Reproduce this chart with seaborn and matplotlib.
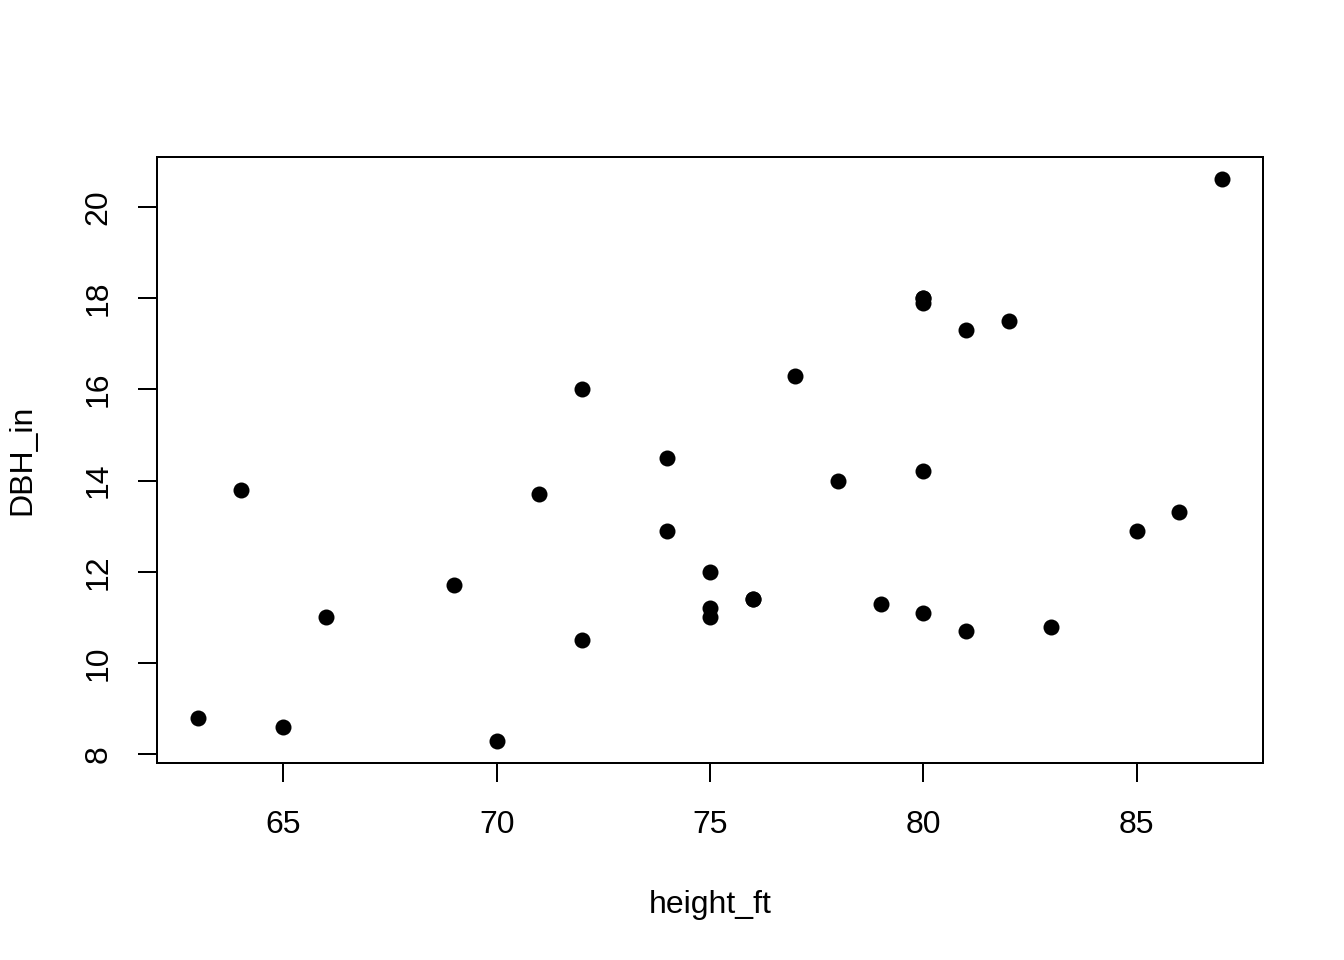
import matplotlib
matplotlib.use("Agg")
import matplotlib.pyplot as plt
import seaborn as sns
import pandas as pd

height_ft = [70, 65, 63, 72, 81, 83, 66, 75, 80, 75, 79, 76, 76, 69, 75, 74,
             85, 86, 71, 64, 78, 80, 74, 72, 77, 81, 82, 80, 80, 80, 87]
DBH_in = [8.3, 8.6, 8.8, 10.5, 10.7, 10.8, 11.0, 11.0, 11.1, 11.2, 11.3, 11.4,
          11.4, 11.7, 12.0, 12.9, 12.9, 13.3, 13.7, 13.8, 14.0, 14.2, 14.5,
          16.0, 16.3, 17.3, 17.5, 17.9, 18.0, 18.0, 20.6]
x_ticks = [65, 70, 75, 80, 85]
y_ticks = [8, 10, 12, 14, 16, 18, 20]

df = pd.DataFrame({"height_ft": height_ft, "DBH_in": DBH_in})

sns.set_style("white")
plt.rcParams["font.family"] = ["Liberation Sans", "DejaVu Sans"]
plt.rcParams["text.color"] = "black"
plt.rcParams["axes.labelcolor"] = "black"
plt.rcParams["xtick.color"] = "black"
plt.rcParams["ytick.color"] = "black"

fig = plt.figure(figsize=(7, 5), dpi=192)
ax = fig.add_axes([157/1344, 1-763/960, (1263-157)/1344, (763-157)/960])

sns.scatterplot(data=df, x="height_ft", y="DBH_in", ax=ax, color="black",
                s=36, edgecolor="black", linewidth=0)

xr = max(height_ft) - min(height_ft)
yr = max(DBH_in) - min(DBH_in)
ax.set_xlim(min(height_ft) - 0.04*xr, max(height_ft) + 0.04*xr)
ax.set_ylim(min(DBH_in) - 0.04*yr, max(DBH_in) + 0.04*yr)

ax.set_xticks(x_ticks)
ax.set_yticks(y_ticks)
ax.set_xticklabels([str(v) for v in x_ticks], fontsize=12, color="black")
ax.set_yticklabels([str(v) for v in y_ticks], fontsize=12, rotation=90, va="center",
                   color="black")
ax.tick_params(axis="both", direction="out", length=7.2, width=0.75, color="black",
               bottom=True, left=True)
ax.tick_params(axis="x", pad=10.5)
ax.tick_params(axis="y", pad=9)
for sp in ax.spines.values():
    sp.set_visible(True)
    sp.set_color("black")
    sp.set_linewidth(0.75)

ax.set_xlabel("height_ft", fontsize=12, labelpad=18.5, color="black")
ax.set_ylabel("DBH_in", fontsize=12, labelpad=17.5, color="black")

fig.savefig("out.png", dpi=192, facecolor="white")
